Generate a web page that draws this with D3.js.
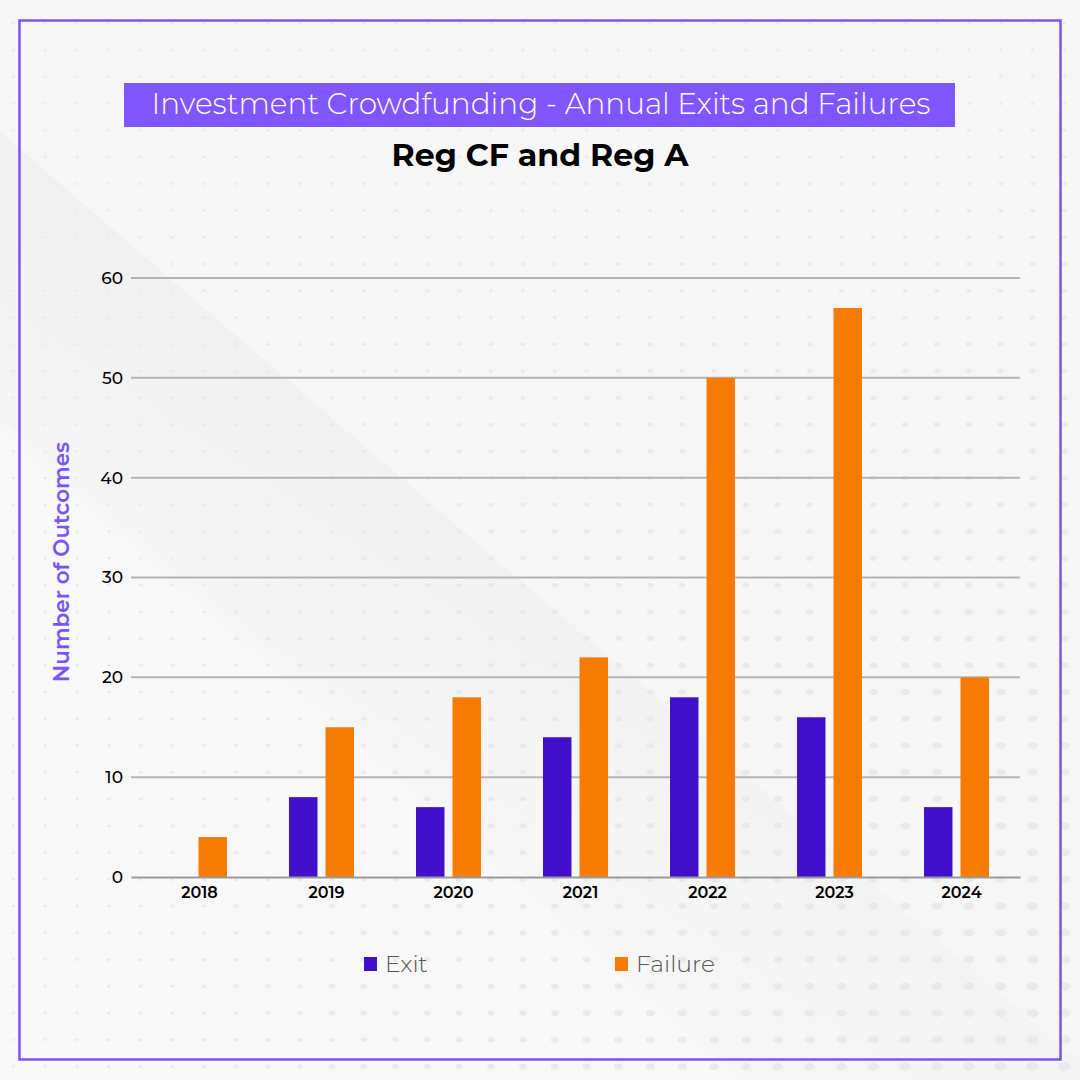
<!DOCTYPE html>
<html>
<head>
<meta charset="utf-8">
<script src="https://cdn.jsdelivr.net/npm/d3@7"></script>
<style>
    html, body { margin: 0; padding: 0; background: #f6f6f6; }
    svg { display: block; }
</style>
</head>
<body>
<svg id="chart"></svg>
<script>
// data
const years = ["2018", "2019", "2020", "2021", "2022", "2023", "2024"];
const exits = [0, 8, 7, 14, 18, 16, 7];
const failures = [4, 15, 18, 22, 50, 57, 20];
const seriesNames = ["Exit", "Failure"];
const seriesColors = ["#4110cb", "#f77b00"];
const yTicks = [0, 10, 20, 30, 40, 50, 60];

const width = 1080, height = 1080;
const margin = {top: 278, right: 60, bottom: 203, left: 131};

const svg = d3.select("#chart")
    .attr("width", width)
    .attr("height", height);

const fontMain = "Montserrat, Inter, 'Noto Sans', sans-serif";

// background
const defs = svg.append("defs");
const wedge = defs.append("linearGradient")
    .attr("id", "wedge")
    .attr("x1", "0.6").attr("y1", "0.3")
    .attr("x2", "0.25").attr("y2", "0.75");
wedge.append("stop").attr("offset", "0").attr("stop-color", "#ececec").attr("stop-opacity", 1);
wedge.append("stop").attr("offset", "1").attr("stop-color", "#f6f6f6").attr("stop-opacity", 0);

svg.append("rect")
    .attr("width", width).attr("height", height)
    .attr("fill", "#f6f6f6");

svg.append("path")
    .attr("d", "M0,132 L1100,1080 L760,1080 L0,420 Z")
    .attr("fill", "url(#wedge)");

svg.append("path")
    .attr("d", "M0,430 L740,1080 L0,1080 Z")
    .attr("fill", "#fafafa")
    .attr("opacity", 0.6);

// dot pattern, dots grow towards the bottom right
const dots = [];
for (let y = 23.3; y < height; y += 26.75) {
    for (let x = 13.3; x < width; x += 31.85) {
        dots.push({x: x, y: y});
    }
}
svg.append("g")
    .selectAll("ellipse").data(dots)
    .enter()
    .append("ellipse")
    .attr("cx", d => d.x)
    .attr("cy", d => d.y)
    .attr("rx", d => 1.2 * (1.3 + 4.2 * (d.x / width) * (d.y / height)))
    .attr("ry", d => 1.3 + 3.2 * (d.x / width) * (d.y / height))
    .attr("fill", "#eaeaea");

// frame
svg.append("rect")
    .attr("x", 19.5).attr("y", 20.5)
    .attr("width", 1041).attr("height", 1039)
    .attr("fill", "none")
    .attr("stroke", "#7b53fb")
    .attr("stroke-width", 2.5);

// title
svg.append("rect")
    .attr("x", 124).attr("y", 83)
    .attr("width", 831).attr("height", 44)
    .attr("fill", "#7f56ff");
svg.append("text")
    .attr("x", 541).attr("y", 114)
    .attr("text-anchor", "middle")
    .attr("fill", "white")
    .attr("font-family", fontMain)
    .attr("font-weight", 300)
    .attr("font-size", "29.5px")
    .text("Investment Crowdfunding - Annual Exits and Failures");

svg.append("text")
    .attr("x", 540).attr("y", 166)
    .attr("text-anchor", "middle")
    .attr("fill", "black")
    .attr("font-family", fontMain)
    .attr("font-weight", 700)
    .attr("font-size", "31.6px")
    .text("Reg CF and Reg A");

// scales
const innerW = width - margin.left - margin.right;
const innerH = height - margin.top - margin.bottom;

const xScale = d3.scaleBand()
    .domain(years)
    .range([margin.left, margin.left + innerW]);
const groupW = 65;
const xSub = d3.scaleBand()
    .domain(seriesNames)
    .range([(xScale.bandwidth() - groupW) / 2, (xScale.bandwidth() + groupW) / 2])
    .paddingInner(0.22);
const yScale = d3.scaleLinear()
    .domain([0, 60])
    .range([margin.top + innerH, margin.top]);

// gridlines
svg.append("g")
    .selectAll("line").data(yTicks.filter(t => t > 0))
    .enter()
    .append("line")
    .attr("x1", margin.left)
    .attr("x2", margin.left + innerW)
    .attr("y1", d => yScale(d))
    .attr("y2", d => yScale(d))
    .attr("stroke", "#b4b4b4")
    .attr("stroke-width", 2);

// y axis
const yAxis = svg.append("g")
    .attr("transform", `translate(${margin.left},0)`)
    .call(d3.axisLeft(yScale).tickValues(yTicks).tickSize(0).tickPadding(8));
yAxis.select(".domain").remove();
yAxis.selectAll("text")
    .attr("fill", "black")
    .attr("font-family", fontMain)
    .attr("font-weight", 500)
    .attr("font-size", "17px");

// bars
const table = years.map((y, i) => ({year: y, values: [exits[i], failures[i]]}));
const groups = svg.append("g")
    .selectAll("g").data(table)
    .enter()
    .append("g")
    .attr("transform", d => `translate(${xScale(d.year)},0)`);
groups.selectAll("rect")
    .data(d => d.values.map((v, j) => ({name: seriesNames[j], value: v, color: seriesColors[j]})))
    .enter()
    .append("rect")
    .attr("x", d => xSub(d.name))
    .attr("width", xSub.bandwidth())
    .attr("y", d => yScale(d.value))
    .attr("height", d => yScale(0) - yScale(d.value))
    .attr("fill", d => d.color);

// x axis
const xAxis = svg.append("g")
    .attr("transform", `translate(0,${yScale(0)})`)
    .call(d3.axisBottom(xScale).tickSize(0).tickPadding(10));
xAxis.select(".domain")
    .attr("stroke", "#9a9a9a")
    .attr("stroke-width", 2);
xAxis.selectAll("text")
    .attr("fill", "black")
    .attr("dx", "5px")
    .attr("font-family", fontMain)
    .attr("font-weight", 600)
    .attr("font-size", "16px");

// y label
svg.append("text")
    .attr("transform", "translate(69,562) rotate(-90)")
    .attr("text-anchor", "middle")
    .attr("fill", "#7b53fb")
    .attr("font-family", fontMain)
    .attr("font-weight", 600)
    .attr("font-size", "21.5px")
    .text("Number of Outcomes");

// legend
const legendX = [364, 615];
const legend = svg.append("g")
    .selectAll("g").data(seriesNames)
    .enter()
    .append("g")
    .attr("transform", (d, i) => `translate(${legendX[i]},957)`);
legend.append("rect")
    .attr("width", 13).attr("height", 14)
    .attr("fill", (d, i) => seriesColors[i]);
legend.append("text")
    .attr("x", 21).attr("y", 15)
    .attr("fill", "#555")
    .attr("font-family", fontMain)
    .attr("font-weight", 300)
    .attr("font-size", "23.5px")
    .text(d => d);
</script>
</body>
</html>
